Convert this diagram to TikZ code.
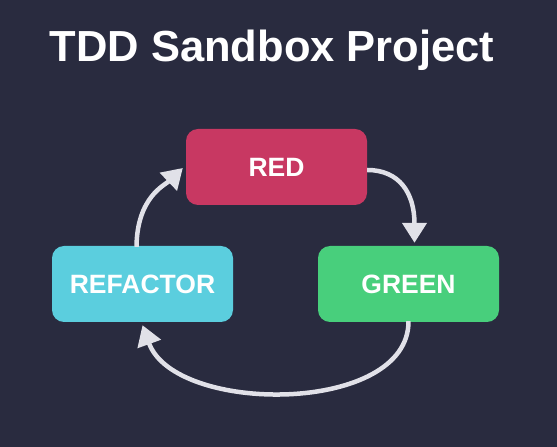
\documentclass[tikz,border=0pt]{standalone}
\usepackage{fontspec}
\setmainfont{Liberation Sans}
\usetikzlibrary{arrows.meta}
\definecolor{bgc}{HTML}{292B3F}
\definecolor{redc}{HTML}{C83862}
\definecolor{greenc}{HTML}{48CF7C}
\definecolor{cyanc}{HTML}{5BCEDE}
\definecolor{arrc}{HTML}{E1E1E8}
\tikzset{
  stagebox/.style={rounded corners=12pt, minimum width=181pt, minimum height=76pt,
    inner sep=0pt, text=white, font=\fontsize{26.5}{26.5}\selectfont\bfseries},
  cyclearrow/.style={draw=arrc, line width=4.5pt,
    -{Triangle[length=20pt,width=24pt]}}
}
\begin{document}
\begin{tikzpicture}[x=1pt,y=1pt]
\fill[bgc] (0,0) rectangle (557,447);
\useasboundingbox (0,0) rectangle (557,447);
\node[text=white, font=\fontsize{43.5}{43.5}\selectfont\bfseries] (title) at (272,397) {TDD Sandbox Project};
\node[stagebox, fill=redc] (red) at (276.5,280) {RED};
\node[stagebox, fill=greenc] (green) at (408.5,163) {GREEN};
\node[stagebox, fill=cyanc] (refactor) at (142.5,163) {REFACTOR};
\coordinate (a1s) at ([yshift=-3pt]red.east);
\coordinate (a1e) at ([xshift=6pt,yshift=3pt]green.north);
\draw[cyclearrow] (a1s) .. controls ([xshift=32pt]a1s) and ([yshift=50pt]a1e) .. (a1e);
\coordinate (a2s) at ([yshift=1pt]green.south);
\coordinate (a2e) at ([yshift=-3pt]refactor.south);
\draw[cyclearrow] (a2s) .. controls (409,32) and (175,32) .. (a2e);
\coordinate (a3s) at ([xshift=-6pt,yshift=-1pt]refactor.north);
\coordinate (a3e) at ([xshift=-3pt,yshift=-1pt]red.west);
\draw[cyclearrow] (a3s) .. controls (137,250) and (165,262) .. (a3e);
\end{tikzpicture}
\end{document}
